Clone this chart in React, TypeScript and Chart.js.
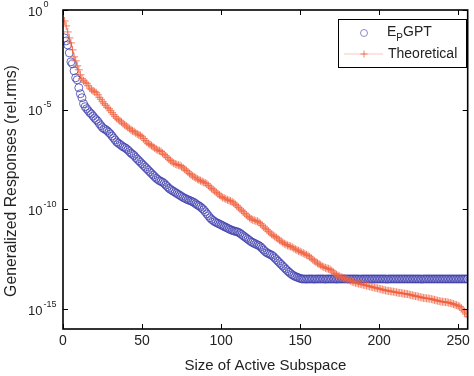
import React, { useEffect, useRef } from 'react';
import { Chart, registerables } from 'chart.js';

Chart.register(...registerables);

const FONT = '"Liberation Sans", Arial, Helvetica, sans-serif';

// x positions (subspace size) are simply the sample index 1..256
const subspaceSizes: number[] = Array.from({ length: 256 }, (_, i) => i + 1);

// log10 of the generalized responses
const theoreticalLog10: number[] = [
  -0.55, -0.80, -1.10, -1.40, -1.65, -2.00, -2.35, -2.55, -2.80, -3.00,
  -3.25, -3.45, -3.55, -3.62, -3.68, -3.80, -3.92, -4.00, -4.06, -4.10,
  -4.15, -4.25, -4.38, -4.48, -4.60, -4.70, -4.78, -4.88, -4.95, -5.05,
  -5.15, -5.25, -5.35, -5.43, -5.50, -5.56, -5.62, -5.70, -5.76, -5.82,
  -5.88, -5.95, -6.02, -6.06, -6.10, -6.16, -6.22, -6.26, -6.30, -6.36,
  -6.45, -6.55, -6.62, -6.70, -6.75, -6.80, -6.86, -6.92, -6.98, -7.03,
  -7.06, -7.10, -7.18, -7.25, -7.32, -7.40, -7.48, -7.55, -7.62, -7.68,
  -7.72, -7.75, -7.78, -7.80, -7.86, -7.92, -7.98, -8.05, -8.12, -8.20,
  -8.26, -8.32, -8.38, -8.42, -8.48, -8.52, -8.56, -8.60, -8.64, -8.68,
  -8.72, -8.80, -8.88, -8.95, -9.02, -9.08, -9.15, -9.22, -9.28, -9.35,
  -9.40, -9.44, -9.48, -9.52, -9.55, -9.58, -9.62, -9.68, -9.75, -9.82,
  -9.90, -9.98, -10.05, -10.12, -10.20, -10.28, -10.35, -10.42, -10.48, -10.52,
  -10.55, -10.58, -10.60, -10.65, -10.72, -10.80, -10.88, -10.95, -11.02, -11.10,
  -11.18, -11.25, -11.30, -11.36, -11.42, -11.48, -11.55, -11.60, -11.66, -11.72,
  -11.76, -11.80, -11.83, -11.86, -11.90, -11.95, -12.00, -12.04, -12.08, -12.12,
  -12.16, -12.20, -12.24, -12.28, -12.32, -12.38, -12.45, -12.52, -12.58, -12.64,
  -12.70, -12.75, -12.80, -12.86, -12.90, -12.93, -12.96, -12.98, -13.02, -13.08,
  -13.15, -13.22, -13.28, -13.32, -13.36, -13.40, -13.43, -13.46, -13.48, -13.52,
  -13.55, -13.58, -13.62, -13.65, -13.68, -13.70, -13.72, -13.74, -13.76, -13.78,
  -13.80, -13.82, -13.84, -13.86, -13.88, -13.90, -13.92, -13.94, -13.96, -13.98,
  -14.00, -14.02, -14.04, -14.06, -14.08, -14.09, -14.10, -14.12, -14.13, -14.15,
  -14.16, -14.18, -14.19, -14.20, -14.22, -14.23, -14.24, -14.25, -14.27, -14.29,
  -14.31, -14.33, -14.35, -14.36, -14.38, -14.40, -14.42, -14.44, -14.45, -14.46,
  -14.47, -14.48, -14.50, -14.52, -14.54, -14.56, -14.58, -14.60, -14.62, -14.63,
  -14.64, -14.65, -14.66, -14.68, -14.70, -14.72, -14.75, -14.78, -14.80, -14.84,
  -14.88, -14.95, -15.05, -15.15, -15.25, -15.38,
];

const epgptLog10: number[] = [
  -1.40, -1.55, -1.75, -2.15, -2.60, -2.70, -3.05, -3.40, -3.50, -3.90,
  -4.20, -4.40, -4.70, -4.85, -4.95, -5.05, -5.15, -5.22, -5.32, -5.42,
  -5.50, -5.58, -5.70, -5.80, -5.90, -5.96, -6.00, -6.06, -6.14, -6.22,
  -6.32, -6.42, -6.52, -6.62, -6.68, -6.74, -6.80, -6.86, -6.90, -6.95,
  -7.02, -7.10, -7.18, -7.24, -7.30, -7.40, -7.48, -7.56, -7.64, -7.72,
  -7.80, -7.88, -7.96, -8.04, -8.12, -8.20, -8.28, -8.36, -8.44, -8.50,
  -8.56, -8.60, -8.64, -8.70, -8.78, -8.86, -8.94, -9.00, -9.05, -9.10,
  -9.15, -9.20, -9.25, -9.30, -9.35, -9.40, -9.44, -9.48, -9.52, -9.55,
  -9.58, -9.62, -9.66, -9.72, -9.78, -9.82, -9.88, -9.95, -10.02, -10.12,
  -10.22, -10.32, -10.42, -10.50, -10.56, -10.62, -10.66, -10.70, -10.74, -10.78,
  -10.82, -10.86, -10.90, -10.94, -10.98, -11.02, -11.05, -11.08, -11.10, -11.12,
  -11.15, -11.20, -11.26, -11.32, -11.38, -11.44, -11.50, -11.56, -11.62, -11.66,
  -11.70, -11.74, -11.78, -11.82, -11.88, -11.96, -12.04, -12.12, -12.18, -12.22,
  -12.26, -12.30, -12.36, -12.44, -12.52, -12.60, -12.68, -12.76, -12.84, -12.92,
  -13.00, -13.08, -13.15, -13.22, -13.28, -13.33, -13.37, -13.40, -13.43, -13.46,
  -13.49, -13.49, -13.49, -13.50, -13.49, -13.49, -13.49, -13.49, -13.50, -13.49,
  -13.49, -13.49, -13.49, -13.49, -13.49, -13.50, -13.49, -13.49, -13.49, -13.49,
  -13.49, -13.49, -13.50, -13.49, -13.49, -13.49, -13.49, -13.49, -13.49, -13.49,
  -13.49, -13.49, -13.49, -13.49, -13.49, -13.49, -13.49, -13.50, -13.49, -13.49,
  -13.49, -13.49, -13.49, -13.49, -13.49, -13.49, -13.49, -13.49, -13.49, -13.49,
  -13.49, -13.49, -13.49, -13.49, -13.50, -13.49, -13.49, -13.49, -13.49, -13.49,
  -13.49, -13.49, -13.49, -13.49, -13.49, -13.49, -13.49, -13.49, -13.49, -13.49,
  -13.49, -13.49, -13.49, -13.49, -13.49, -13.49, -13.50, -13.49, -13.49, -13.49,
  -13.49, -13.49, -13.49, -13.49, -13.49, -13.49, -13.49, -13.49, -13.49, -13.49,
  -13.49, -13.49, -13.49, -13.49, -13.49, -13.49, -13.49, -13.49, -13.49, -13.49,
  -13.49, -13.49, -13.49, -13.49, -13.49, -13.49,
];

const xTickValues: number[] = [0, 50, 100, 150, 200, 250];
const yTickValues: number[] = [1, 1e-5, 1e-10, 1e-15];
const yTickExponents: string[] = ['0', '-5', '-10', '-15'];

const xTitle = 'Size of Active Subspace';
const yTitle = 'Generalized Responses (rel.rms)';
const legendMain = 'E';
const legendSub = 'P';
const legendRest = 'GPT';
const legendTheory = 'Theoretical';

const BLUE = 'rgba(65,65,175,0.8)';
const ORANGE = 'rgba(240,95,60,0.8)';
const TEXT = '#222';

const framePlugin = {
  id: 'matlabFrame',
  afterDraw(chart: any) {
    const { ctx, chartArea: a, scales } = chart;
    const xs = scales.x;
    const ys = scales.y;
    ctx.save();
    // box
    ctx.strokeStyle = '#000';
    ctx.lineWidth = 1.6;
    ctx.strokeRect(a.left, a.top, a.right - a.left, a.bottom - a.top);
    // inward ticks
    ctx.lineWidth = 1;
    ctx.beginPath();
    for (const v of xTickValues) {
      const px = Math.round(xs.getPixelForValue(v)) + 0.5;
      ctx.moveTo(px, a.bottom);
      ctx.lineTo(px, a.bottom - 5);
      ctx.moveTo(px, a.top);
      ctx.lineTo(px, a.top + 5);
    }
    for (const v of yTickValues) {
      const py = Math.round(ys.getPixelForValue(v)) + 0.5;
      ctx.moveTo(a.left, py);
      ctx.lineTo(a.left + 5, py);
      ctx.moveTo(a.right, py);
      ctx.lineTo(a.right - 5, py);
    }
    ctx.stroke();

    // y tick labels with superscripts
    ctx.fillStyle = TEXT;
    ctx.textAlign = 'left';
    ctx.textBaseline = 'middle';
    yTickValues.forEach((v, i) => {
      const py = ys.getPixelForValue(v);
      ctx.font = `13px ${FONT}`;
      ctx.fillText('10', 28, py + 2);
      const w = ctx.measureText('10').width;
      ctx.font = `9px ${FONT}`;
      ctx.fillText(yTickExponents[i], 28 + w + 1, py - 5);
    });

    // y axis title
    ctx.save();
    ctx.translate(12, 181);
    ctx.rotate(-Math.PI / 2);
    ctx.textAlign = 'center';
    ctx.textBaseline = 'middle';
    ctx.font = `15.8px ${FONT}`;
    ctx.fillStyle = TEXT;
    ctx.fillText(yTitle, 0, 0);
    ctx.restore();

    // legend
    const lx = 338, ly = 19.5, lw = 128, lh = 48;
    ctx.fillStyle = '#fff';
    ctx.fillRect(lx, ly, lw, lh);
    ctx.strokeStyle = '#000';
    ctx.lineWidth = 1;
    ctx.strokeRect(lx + 0.5, ly, lw, lh);

    const r1 = 33, r2 = 54, mx = 364, tx = 387;
    ctx.strokeStyle = 'rgba(90,90,190,0.7)';
    ctx.beginPath();
    ctx.arc(mx, r1, 3.5, 0, Math.PI * 2);
    ctx.stroke();

    ctx.strokeStyle = 'rgba(240,120,100,0.7)';
    ctx.lineWidth = 0.6;
    ctx.beginPath();
    ctx.moveTo(344, r2);
    ctx.lineTo(383, r2);
    ctx.stroke();
    ctx.lineWidth = 1;
    ctx.strokeStyle = ORANGE;
    ctx.beginPath();
    ctx.moveTo(mx - 3.5, r2);
    ctx.lineTo(mx + 3.5, r2);
    ctx.moveTo(mx, r2 - 3.5);
    ctx.lineTo(mx, r2 + 3.5);
    ctx.stroke();

    ctx.fillStyle = TEXT;
    ctx.font = `14px ${FONT}`;
    ctx.fillText(legendMain, tx, r1 - 1);
    let cx = tx + ctx.measureText(legendMain).width;
    ctx.font = `10px ${FONT}`;
    ctx.fillText(legendSub, cx, r1 + 5);
    cx += ctx.measureText(legendSub).width;
    ctx.font = `14px ${FONT}`;
    ctx.fillText(legendRest, cx, r1 - 1);
    ctx.fillText(legendTheory, tx + 1, r2);
    ctx.restore();
  },
};

export default function App() {
  const ref = useRef<HTMLCanvasElement>(null);
  useEffect(() => {
    if (!ref.current) return;
    const chart = new Chart(ref.current, {
      type: 'scatter',
      data: {
        datasets: [
          {
            label: legendTheory,
            data: subspaceSizes.map((x, i) => ({ x, y: Math.pow(10, theoreticalLog10[i]) })),
            showLine: true,
            borderColor: ORANGE,
            borderWidth: 0.6,
            pointStyle: 'cross',
            pointRadius: 4,
            pointBorderWidth: 1,
            pointBorderColor: ORANGE,
            pointBackgroundColor: ORANGE,
          },
          {
            label: legendMain + legendSub + legendRest,
            data: subspaceSizes.map((x, i) => ({ x, y: Math.pow(10, epgptLog10[i]) })),
            showLine: false,
            pointStyle: 'circle',
            pointRadius: 4,
            pointBorderWidth: 1,
            pointBorderColor: BLUE,
            pointBackgroundColor: 'rgba(0,0,0,0)',
          },
        ],
      },
      options: {
        animation: false,
        responsive: false,
        devicePixelRatio: 1,
        layout: { padding: { top: 10, right: 5, left: 0, bottom: 0 } },
        plugins: { legend: { display: false }, tooltip: { enabled: false } },
        scales: {
          x: {
            type: 'linear',
            min: 0,
            max: 256,
            afterBuildTicks: (s: any) => {
              s.ticks = xTickValues.map((v) => ({ value: v }));
            },
            afterFit: (s: any) => {
              s.height = 47;
            },
            grid: { display: false, drawTicks: false },
            border: { display: false },
            ticks: {
              color: TEXT,
              font: { family: FONT, size: 14 },
              padding: 4,
              maxRotation: 0,
              autoSkip: false,
            },
            title: {
              display: true,
              text: xTitle,
              color: TEXT,
              font: { family: FONT, size: 15 },
              padding: { top: 0, bottom: 1 },
            },
          },
          y: {
            type: 'logarithmic',
            min: 1e-16,
            max: 1,
            afterBuildTicks: (s: any) => {
              s.ticks = yTickValues.map((v) => ({ value: v }));
            },
            afterFit: (s: any) => {
              s.width = 63;
            },
            grid: { display: false, drawTicks: false },
            border: { display: false },
            ticks: { display: false },
            title: { display: false },
          },
        },
      },
      plugins: [framePlugin],
    } as any);
    return () => chart.destroy();
  }, []);
  return (
    <div style={{ position: 'fixed', left: 0, top: 0, width: 474, height: 376, background: '#fff' }}>
      <canvas ref={ref} width={474} height={376} style={{ display: 'block' }} />
    </div>
  );
}
